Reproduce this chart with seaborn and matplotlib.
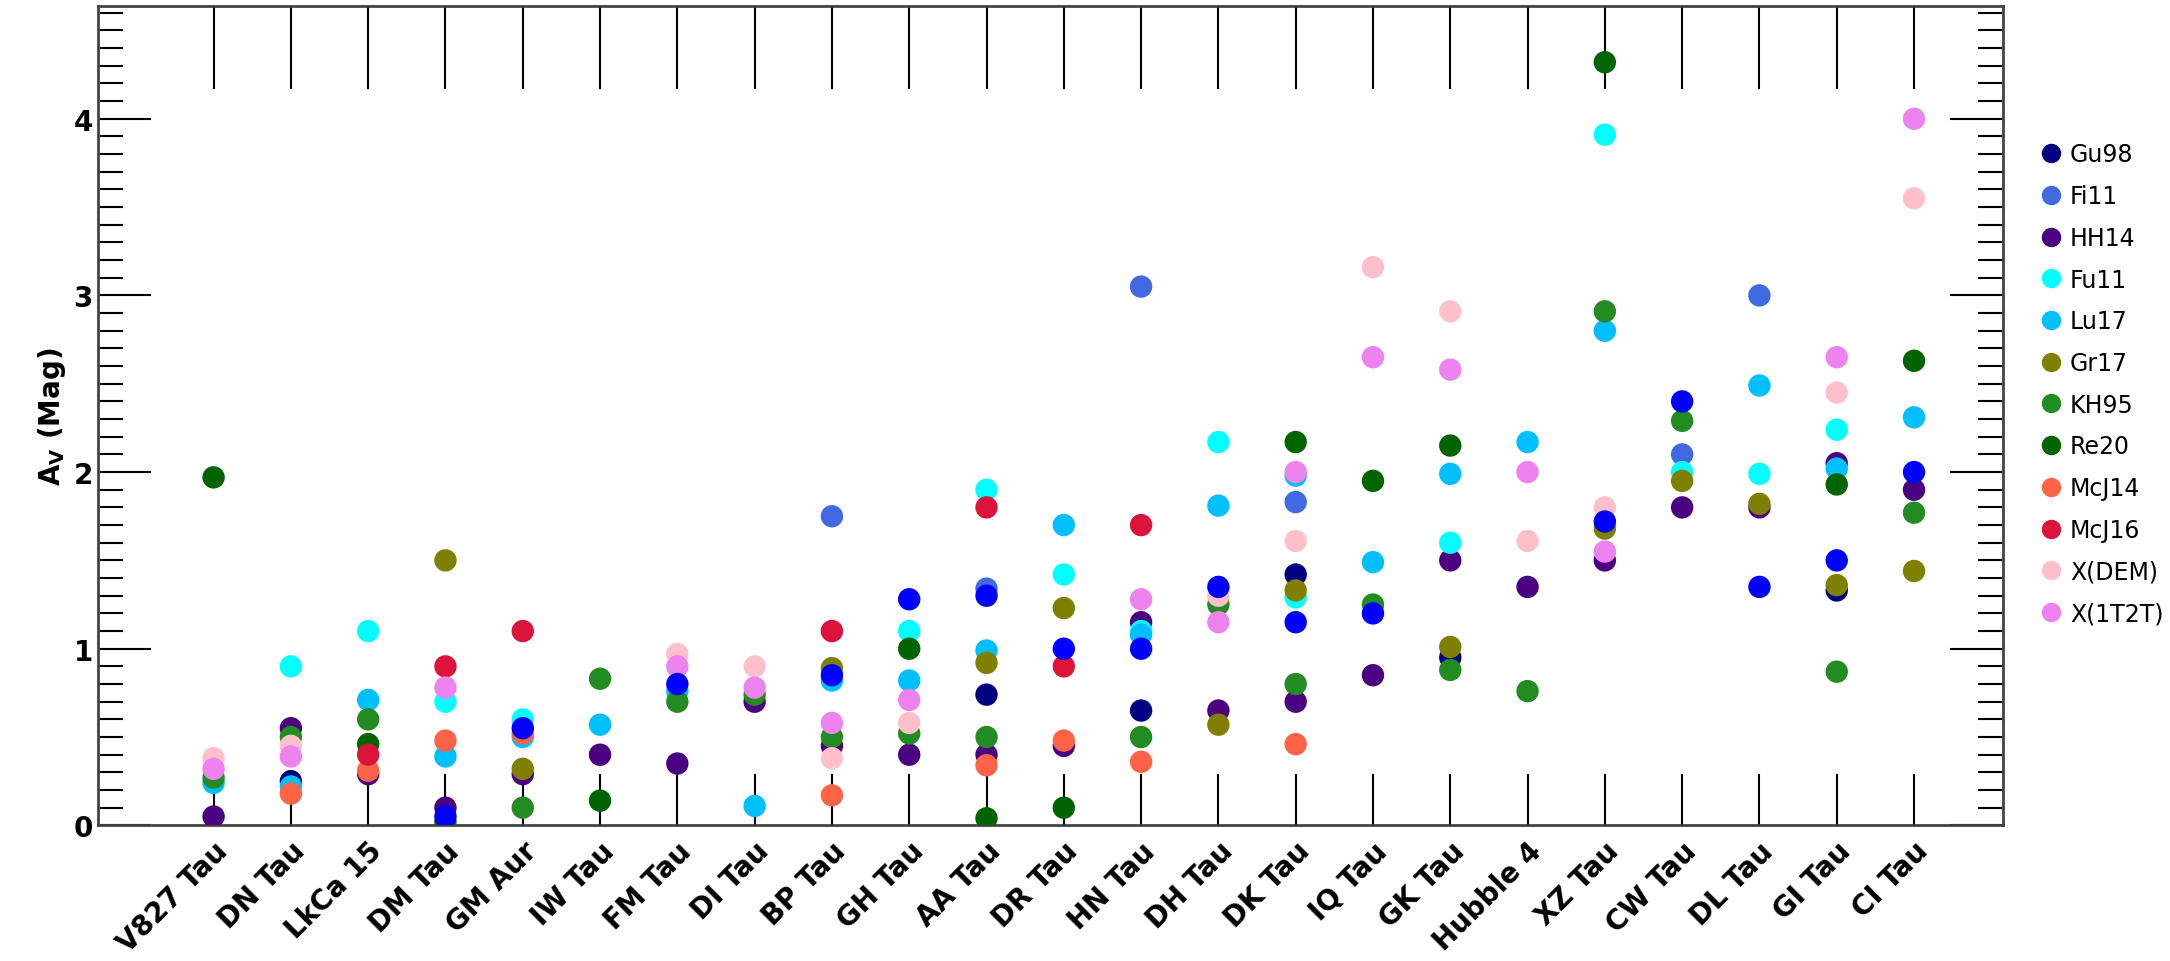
import numpy as np
import pandas as pd
import seaborn as sns
import matplotlib.pyplot as plt

sns.set_style('white')
plt.rcParams['font.family'] = ['DejaVu Sans']
plt.rcParams['text.color'] = 'black'
plt.rcParams['axes.labelcolor'] = 'black'
plt.rcParams['xtick.color'] = 'black'
plt.rcParams['ytick.color'] = 'black'

stars = ['V827 Tau', 'DN Tau', 'LkCa 15', 'DM Tau', 'GM Aur', 'IW Tau', 'FM Tau', 'DI Tau',
         'BP Tau', 'GH Tau', 'AA Tau', 'DR Tau', 'HN Tau', 'DH Tau', 'DK Tau', 'IQ Tau',
         'GK Tau', 'Hubble 4', 'XZ Tau', 'CW Tau', 'DL Tau', 'GI Tau', 'CI Tau']
n = np.nan
# one value per star (nan = no estimate)
Gu98 = [n, .25, n, n, n, n, n, n, n, n, .74, n, .65, n, 1.42, n, .95, n, n, n, n, 1.33, n]
Fi11 = [n, n, n, n, n, n, n, n, 1.75, n, 1.34, n, 3.05, n, 1.83, n, n, n, n, 2.10, 3.0, n, n]
HH14 = [.05, .55, .29, .10, .29, .40, .35, .70, .45, .40, .40, .45, 1.15, .65, .70, .85, 1.50, 1.35, 1.50, 1.80, 1.80, 2.05, 1.90]
Fu11 = [n, .90, 1.10, .70, .60, n, n, n, n, 1.10, 1.90, 1.42, 1.10, 2.17, 1.29, n, 1.60, n, 3.91, 2.0, 1.99, 2.24, n]
Lu17 = [.24, .22, .71, .39, .50, .57, .76, .11, .82, .82, .99, 1.70, 1.08, 1.81, 1.98, 1.49, 1.99, 2.17, 2.80, n, 2.49, 2.02, 2.31]
Gr17 = [n, n, n, 1.50, .32, n, n, n, .89, n, .92, 1.23, n, .57, 1.33, n, 1.01, n, 1.68, 1.95, 1.82, 1.36, 1.44]
KH95 = [.27, .50, .60, n, .10, .83, .70, .74, .50, .52, .50, n, .50, 1.25, .80, 1.25, .88, .76, 2.91, 2.29, n, .87, 1.77]
Re20 = [1.97, n, .46, .02, n, .14, n, n, n, 1.0, .04, .10, n, n, 2.17, 1.95, 2.15, n, 4.32, n, n, 1.93, 2.63]
McJ14 = [n, .18, .31, .48, .52, n, n, n, .17, n, .34, .48, .36, n, .46, n, n, n, n, n, n, n, n]
McJ16 = [n, n, .40, .90, 1.10, n, n, n, 1.10, n, 1.80, .90, 1.70, n, n, n, n, n, n, n, n, n, n]
XDEM = [.38, .45, n, n, n, n, .97, .90, .38, .58, n, n, n, 1.30, 1.61, 3.16, 2.91, 1.61, 1.80, n, n, 2.45, 3.55]
X1T2T = [.32, .39, n, .78, n, n, .90, .78, .58, .71, n, n, 1.28, 1.15, 2.0, 2.65, 2.58, 2.0, 1.55, n, n, 2.65, 4.0]
other = [n, n, n, .05, .55, n, .80, n, .85, 1.28, 1.30, 1.0, 1.0, 1.35, 1.15, 1.20, n, n, 1.72, 2.40, 1.35, 1.50, 2.0]

series = {'Gu98': Gu98, 'Fi11': Fi11, 'HH14': HH14, 'Fu11': Fu11, 'Lu17': Lu17, 'Gr17': Gr17,
          'KH95': KH95, 'Re20': Re20, 'McJ14': McJ14, 'McJ16': McJ16, 'X(DEM)': XDEM,
          'X(1T2T)': X1T2T, 'other': other}
colors = {'Gu98': 'navy', 'Fi11': 'royalblue', 'HH14': 'indigo', 'Fu11': 'cyan', 'Lu17': 'deepskyblue',
          'Gr17': 'olive', 'KH95': 'forestgreen', 'Re20': 'darkgreen', 'McJ14': 'tomato',
          'McJ16': 'crimson', 'X(DEM)': 'pink', 'X(1T2T)': 'violet', 'other': 'blue'}

df = pd.concat([pd.DataFrame({'star': stars, 'Av': v, 'src': k}) for k, v in series.items()])
df = df.dropna()
df['x'] = df['star'].map({s: i for i, s in enumerate(stars)})

fig = plt.figure(figsize=(21.7, 9.62), dpi=100)
ax = fig.add_axes([0.045, 0.141, 0.878, 0.852])
ytop = 4.64
ax.set_xlim(-1.5, 23.15)
ax.set_ylim(0, ytop)

# tick marks drawn as lines like the original
ax.vlines(range(len(stars)), 0, 0.29, color='black', lw=1.5, zorder=1)
ax.vlines(range(len(stars)), ytop - 0.47, ytop, color='black', lw=1.5, zorder=1)

sns.scatterplot(data=df, x='x', y='Av', hue='src', palette=colors, s=260, edgecolor='none',
                ax=ax, zorder=3, legend=False)

ax.set_xticks(range(len(stars)))
ax.set_xticklabels(stars, rotation=45, ha='right', rotation_mode='anchor', fontsize=20, fontweight='bold')
ax.tick_params(axis='x', length=0, pad=8)
ax.set_yticks([0, 1, 2, 3, 4])
ax.set_yticklabels(['0', '1', '2', '3', '4'], fontsize=20, fontweight='bold')
ax.set_yticks(np.arange(0, 4.65, 0.1), minor=True)
ax.tick_params(axis='y', which='major', direction='in', length=38, width=1.5, left=True, right=True)
ax.tick_params(axis='y', which='minor', direction='in', length=18, width=1.5, left=True, right=True)
ax.set_xlabel('')
ax.set_ylabel(r'$\mathbf{A_V}$ (Mag)', fontsize=20, fontweight='bold')
for sp in ax.spines.values():
    sp.set_color('#444444')
    sp.set_linewidth(2)

handles = [plt.Line2D([], [], marker='o', ls='', color=colors[k], markersize=13) for k in series if k != 'other']
labels = [k for k in series if k != 'other']
fig.legend(handles, labels, loc='center left', bbox_to_anchor=(0.93, 0.6), frameon=False,
           fontsize=17, handletextpad=0.3, labelspacing=0.75, handlelength=1.0)

fig.savefig('out.png', dpi=100)
